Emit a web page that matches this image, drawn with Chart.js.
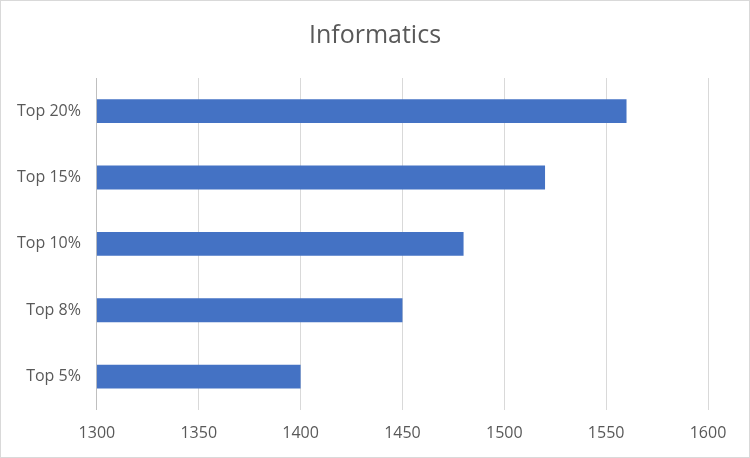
<!DOCTYPE html>
<html>
<head>
<meta charset="utf-8">
<script src="https://cdn.jsdelivr.net/npm/chart.js@4"></script>
<style>
  html, body { margin: 0; padding: 0; background: #fff; }
  #wrap { width: 750px; height: 458px; box-sizing: border-box; border: 1px solid #d9d9d9; position: relative; }
</style>
</head>
<body>
<div id="wrap"><canvas id="chart"></canvas></div>
<script>
const categories = ['Top 20%', 'Top 15%', 'Top 10%', 'Top 8%', 'Top 5%'];
const scores = [1560, 1520, 1480, 1450, 1400];
const xTicks = [1300, 1350, 1400, 1450, 1500, 1550, 1600];

const ctx = document.getElementById('chart').getContext('2d');

// stretch the title box over the whole canvas so it is centred on the page
const centreTitle = {
    id: 'centreTitle',
    afterLayout(chart) {
        const t = chart.titleBlock;
        if (t) {
            t.left = 0;
            t.right = chart.width;
            t.width = chart.width;
        }
    }
};

new Chart(ctx, {
    type: 'bar',
    data: {
        labels: categories,
        datasets: [{
            label: 'Informatics',
            data: scores,
            backgroundColor: '#4472C4',
            borderWidth: 0,
            barPercentage: 0.36,
            categoryPercentage: 1.0
        }]
    },
    plugins: [centreTitle],
    options: {
        indexAxis: 'y',
        responsive: true,
        maintainAspectRatio: false,
        animation: false,
        layout: {
            padding: { left: 0, right: 41, top: 10, bottom: 0 }
        },
        plugins: {
            legend: { display: false },
            tooltip: { enabled: false },
            title: {
                display: true,
                text: 'Informatics',
                color: '#595959',
                font: { family: 'Open Sans', size: 25, weight: 'normal' },
                padding: { top: 10, bottom: 27 }
            }
        },
        scales: {
            x: {
                min: xTicks[0],
                max: xTicks[xTicks.length - 1],
                afterBuildTicks: (axis) => {
                    axis.ticks = xTicks.map(v => ({ value: v }));
                },
                grid: {
                    color: '#d9d9d9',
                    drawTicks: false
                },
                border: { display: false },
                ticks: {
                    color: '#595959',
                    padding: 14,
                    font: { family: 'Open Sans', size: 16 },
                    callback: (v) => String(v)
                }
            },
            y: {
                grid: { display: false, drawTicks: false },
                border: { display: true, color: '#bfbfbf', width: 1 },
                ticks: {
                    color: '#595959',
                    padding: 16,
                    font: { family: 'Open Sans', size: 16 }
                }
            }
        }
    }
});
</script>
</body>
</html>
